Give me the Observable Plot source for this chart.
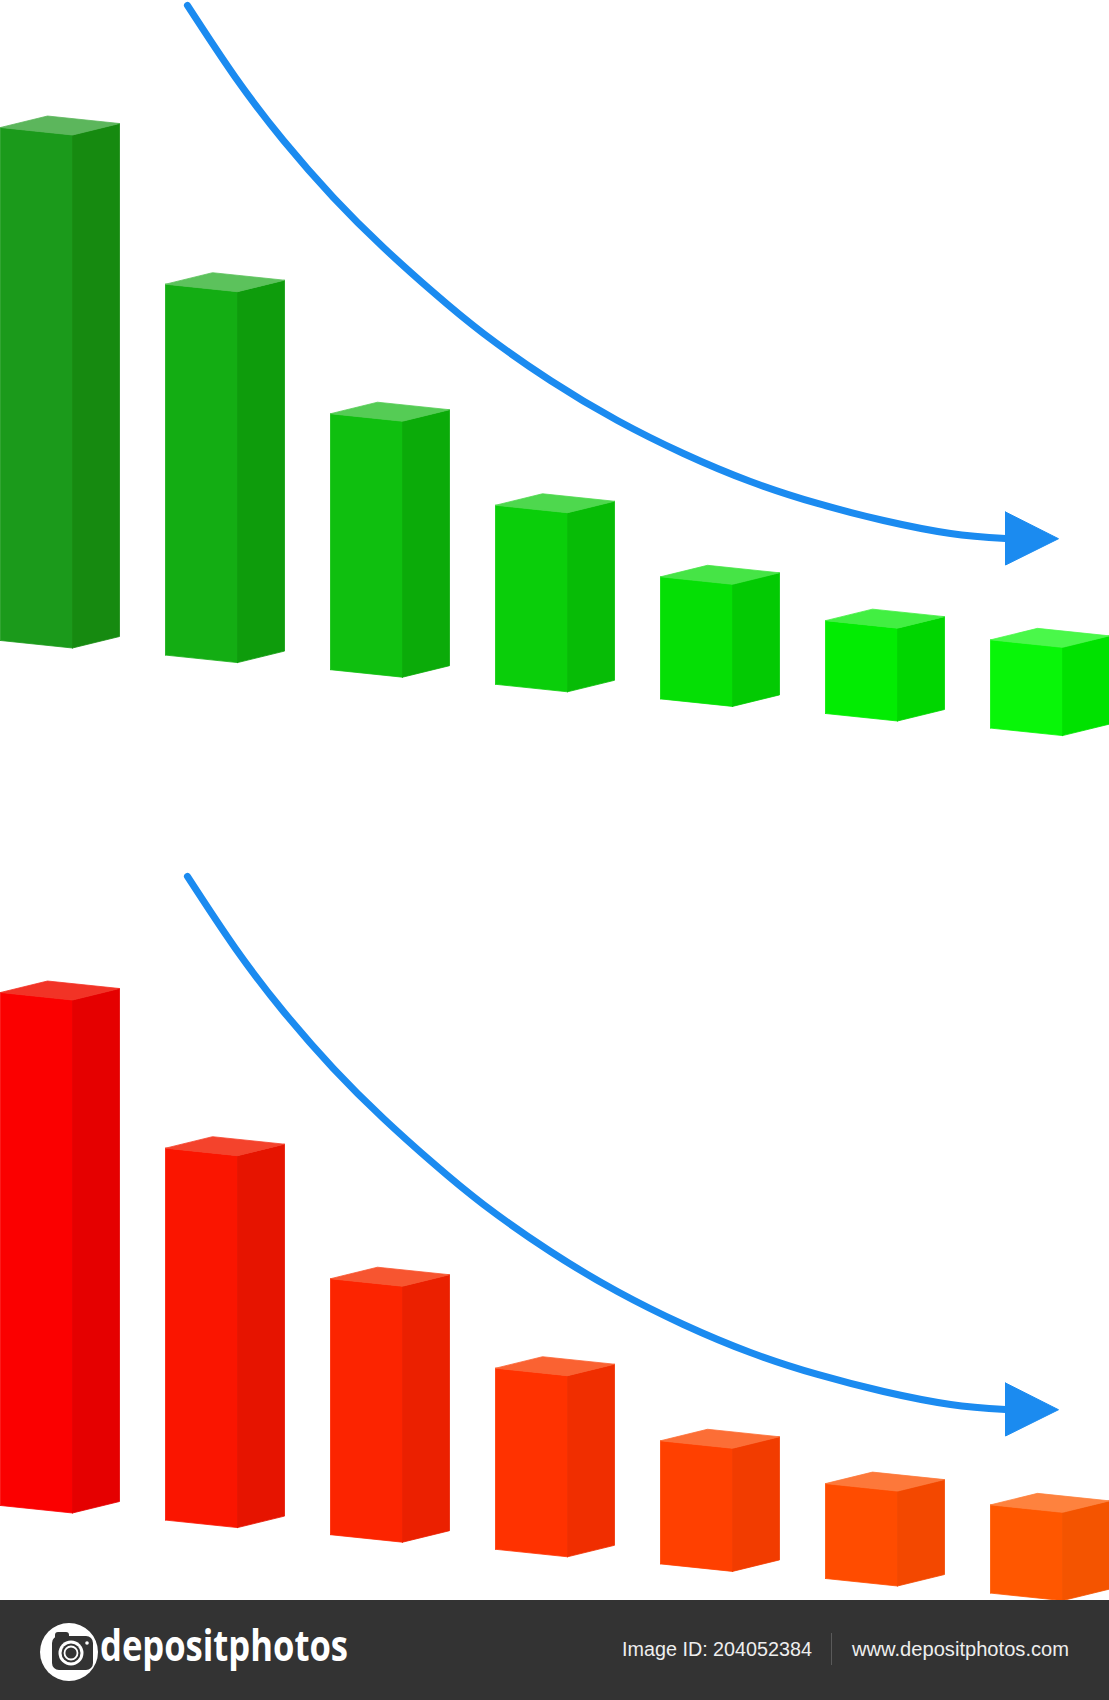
<!DOCTYPE html>
<html>
<head>
<meta charset="utf-8">
<script src="https://cdn.jsdelivr.net/npm/d3@7"></script>
<script src="https://cdn.jsdelivr.net/npm/@observablehq/plot@0.6"></script>
<style>
  html, body { margin: 0; padding: 0; background: #ffffff; }
  #chart svg { display: block; }
  #footer svg { display: block; }
</style>
</head>
<body>
<div id="chart"></div>
<div id="footer"></div>
<script>
// ---------- data ----------
const categories = ["1", "2", "3", "4", "5", "6", "7"];
const greenValues = [100, 72.3, 49.9, 34.9, 23.8, 18.1, 17.2];
const redValues   = [100, 72.5, 49.9, 35.3, 24.0, 18.5, 17.2];

// trend arrow (x in category slots, y in value units)
const trendX = [1.133, 1.424, 1.715, 2.018, 2.321, 2.624, 2.927, 3.333, 3.739, 4.139, 4.545, 4.952, 5.352, 5.758, 6.091];
const trendY = [123.8, 109.75, 97.47, 86.35, 76.61, 67.84, 59.84, 50.68, 42.88, 36.45, 30.99, 26.71, 23.39, 20.86, 19.88];

// ---------- palette ----------
const greenFront = ["#1b9a1b", "#13ad13", "#0fbf0f", "#0ace0a", "#05df05", "#02ec02", "#08f608"];
const greenSide  = ["#168a10", "#0e9c0c", "#0bab09", "#07bc06", "#03ca03", "#00d600", "#00e200"];
const greenTop   = ["#5cb65c", "#5cc25c", "#55cc55", "#4ed84e", "#46e446", "#42ef42", "#4af84a"];
const redFront   = ["#fb0000", "#fa1500", "#fc2400", "#ff3200", "#ff4000", "#ff4c00", "#ff5700"];
const redSide    = ["#e50000", "#e61400", "#eb2000", "#f02e00", "#f23c00", "#f34800", "#f45400"];
const redTop     = ["#f23326", "#f4432c", "#f75530", "#fa6232", "#fc6e36", "#fd783a", "#fe823e"];
const arrowBlue  = "#1b8bf0";

// ---------- layout ----------
const W = 1109, H = 1600;
const slotPx = 165;          // px per category slot
const unitPx = 5.13;         // px per value unit
const yTopPx = 640;          // pixel of value 0 (first bar base)
const frontW = 72 / slotPx, sideW = 47 / slotPx;
const frontDrop = 7.5 / unitPx, sideRise = 11.5 / unitPx;
const baseDrop = 14.6 / unitPx;       // perspective drop of base per bar
const panelShiftBars = 865 / unitPx;  // second panel offset
const panelShiftTrend = 871 / unitPx;
const headLen = 53 / slotPx, headHalf = 26.5 / unitPx;

function barFaces(values, front, side, top, shift, tag) {
  const rows = [];
  values.forEach((v, i) => {
    const b = -baseDrop * i - shift, t = b + v;
    const xl = i, xf = i + frontW, xr = i + frontW + sideW, xb = i + sideW;
    const polys = [
      ["front", front[i], [[xl, b], [xf, b - frontDrop], [xf, t - frontDrop], [xl, t]]],
      ["side", side[i], [[xf, b - frontDrop], [xr, b - frontDrop + sideRise], [xr, t - frontDrop + sideRise], [xf, t - frontDrop]]],
      ["top", top[i], [[xl, t], [xf, t - frontDrop], [xr, t - frontDrop + sideRise], [xb, t + sideRise]]]
    ];
    for (const [face, color, pts] of polys) {
      const id = `${tag}-${categories[i]}-${face}`;
      [...pts, pts[0]].forEach(([x, y]) => rows.push({id, x, y, color}));
    }
  });
  return rows;
}

const faces = [
  ...barFaces(greenValues, greenFront, greenSide, greenTop, 0, "g"),
  ...barFaces(redValues, redFront, redSide, redTop, panelShiftBars, "r")
];

const trend = [];
const heads = [];
[["up", 0], ["down", panelShiftTrend]].forEach(([panel, s]) => {
  trendX.forEach((x, i) => trend.push({panel, x, y: trendY[i] - s}));
  const xe = trendX[trendX.length - 1], ye = trendY[trendY.length - 1] - s;
  [[xe, ye + headHalf], [xe + headLen, ye - 0.04], [xe, ye - headHalf], [xe, ye + headHalf]]
    .forEach(([x, y]) => heads.push({panel, x, y}));
});

const yMax = yTopPx / unitPx, yMin = -(H - yTopPx) / unitPx;

const chart = Plot.plot({
  width: W,
  height: H,
  margin: 0,
  style: {background: "#ffffff", overflow: "hidden"},
  x: {domain: [0, W / slotPx], axis: null},
  y: {domain: [yMin, yMax], axis: null},
  color: {type: "identity"},
  marks: [
    Plot.line(faces, {x: "x", y: "y", z: "id", fill: "color", stroke: "color", strokeWidth: 0.8, curve: "linear"}),
    Plot.line(trend, {x: "x", y: "y", z: "panel", stroke: arrowBlue, strokeWidth: 7, curve: "natural", strokeLinecap: "round"}),
    Plot.line(heads, {x: "x", y: "y", z: "panel", fill: arrowBlue, stroke: arrowBlue, strokeWidth: 1, curve: "linear"})
  ]
});
document.getElementById("chart").appendChild(chart);

// ---------- footer banner ----------
document.getElementById("footer").innerHTML = `
<svg width="${W}" height="100" viewBox="0 0 ${W} 100" xmlns="http://www.w3.org/2000/svg">
  <rect width="${W}" height="100" fill="#333333"/>
  <circle cx="69" cy="52" r="29" fill="#ffffff"/>
  <rect x="52" y="36" width="41" height="34" rx="7" fill="#333333"/>
  <rect x="55" y="32" width="14" height="8" rx="3" fill="#333333"/>
  <circle cx="71" cy="53" r="12.5" fill="#ffffff"/>
  <circle cx="71" cy="53" r="9.5" fill="#333333"/>
  <circle cx="71" cy="53" r="6.5" fill="none" stroke="#ffffff" stroke-width="1.8"/>
  <circle cx="87" cy="43" r="1.8" fill="#ffffff"/>
  <text x="100" y="61" fill="#ffffff" font-family="'Open Sans', Inter, 'DejaVu Sans', sans-serif" font-weight="700" font-size="43" textLength="248" lengthAdjust="spacingAndGlyphs">depositphotos</text>
  <text x="622" y="56" fill="#eeeeee" font-family="'Liberation Sans', Arial, sans-serif" font-size="20" textLength="190" lengthAdjust="spacingAndGlyphs">Image ID: 204052384</text>
  <line x1="831.5" x2="831.5" y1="33" y2="65" stroke="#5a5a5a" stroke-width="1"/>
  <text x="852" y="56" fill="#eeeeee" font-family="'Liberation Sans', Arial, sans-serif" font-size="20" textLength="217" lengthAdjust="spacingAndGlyphs">www.depositphotos.com</text>
</svg>`;
</script>
</body>
</html>
